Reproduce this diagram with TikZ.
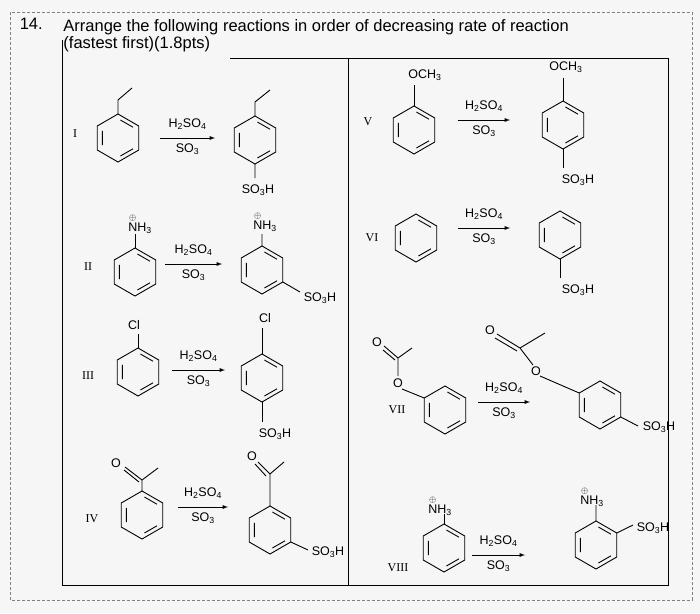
\documentclass[tikz,border=0pt]{standalone}
\usepackage{amsmath}
\usepackage{fontspec}
\setmainfont{Liberation Serif}
\setsansfont{Liberation Sans}
\begin{document}
\begin{tikzpicture}[x=1pt,y=-1pt,line width=0.9pt,
  lab/.style={font=\sffamily\fontsize{12.5}{13}\selectfont,inner sep=1pt},
  rn/.style={font=\rmfamily\fontsize{12}{13}\selectfont,inner sep=1pt},
  arr/.style={-latex,line width=0.9pt}]
\newcommand\bz[2]{\begin{scope}[shift={(#1,#2)},scale=1.2]
 \draw (0,-20)--(17.3,-10)--(17.3,10)--(0,20)--(-17.3,10)--(-17.3,-10)--cycle;
 \draw (2,-15)--(12.5,-9) (12.5,9)--(2,15) (-13,6)--(-13,-6);
 \end{scope}}
\newcommand\rx[4]{%
 \coordinate (#4a) at (#1,#3); \coordinate (#4b) at (#2,#3);
 \draw[arr] (#4a)--(#4b);
 \node[lab] (#4t) at ({(#1+#2)/2},#3-14) {H\textsubscript{2}SO\textsubscript{4}};
 \node[lab] (#4s) at ({(#1+#2)/2},#3+11) {SO\textsubscript{3}};}
\newcommand\nhplus{$\overset{\oplus}{\text{N}}$H\textsubscript{3}}
\useasboundingbox (0,0) rectangle (700,613);
\fill[white!93!gray] (0,0) rectangle (700,613);
\draw[densely dashed,gray,line width=0.6pt] (10,12) rectangle (692,600);
\draw (62,40)--(62,585)--(668,585)--(668,58)--(230,58);
\draw (348,58)--(348,585);
\node[font=\sffamily\fontsize{16.5}{17}\selectfont,anchor=west] (num) at (16,24) {14.};
\node[font=\sffamily\fontsize{16.5}{17}\selectfont,anchor=west,align=left,inner sep=1pt] (title) at (62,36) {Arrange the following reactions in order of decreasing rate of reaction\\(fastest first)(1.8pts)};
% I
\node[rn] (l1) at (75,134) {I};
\bz{118}{138}\draw (118,114)--(118,100)--(132,88);
\rx{160}{215}{138}{r1}
\bz{255}{140}\draw (255,116)--(255,102)--(270,90) (255,164)--(255,178);
\node[lab] (s1) at (258,190) {SO\textsubscript{3}H};
% II
\node[rn] (l2) at (88,267) {II};
\bz{135}{272}\draw (135,248)--(135,234);
\node[lab] (n2) at (140,224) {\nhplus};
\rx{165}{222}{264}{r2}
\bz{262}{270}\draw (262,246)--(262,234) (282.8,282)--(300,292);
\node[lab] (n2p) at (265,222) {\nhplus};
\node[lab] (s2) at (320,298) {SO\textsubscript{3}H};
% III
\node[rn] (l3) at (88,376) {III};
\bz{138}{372}\draw (138,348)--(138,334);
\node[lab] (c3) at (134,325) {Cl};
\rx{172}{225}{370}{r3}
\bz{262}{378}\draw (262,354)--(262,328) (262,402)--(262,422);
\node[lab] (c3p) at (265,318) {Cl};
\node[lab] (s3) at (275,434) {SO\textsubscript{3}H};
% IV
\node[rn] (l4) at (92,519) {IV};
\bz{142}{515}\draw (142,491)--(142,480)--(125,467) (142,480)--(158,468);
\draw (139,482)--(124,470);
\node[lab] (o4) at (116,463) {O};
\rx{178}{228}{507}{r4}
\bz{270}{530}\draw (270,506)--(270,474)--(284,462) (270,474)--(258,462) (266,476)--(255,464) (290.8,542)--(308,550);
\node[lab] (o4p) at (252,456) {O};
\node[lab] (s4) at (328,552) {SO\textsubscript{3}H};
% V
\node[rn] (l5) at (368,122) {V};
\bz{414}{130}\draw (414,106)--(414,85);
\node[lab] (o5) at (425,75) {OCH\textsubscript{3}};
\rx{458}{510}{120}{r5}
\bz{563}{125}\draw (563,101)--(563,78) (563,149)--(563,168);
\node[lab] (o5p) at (566,67) {OCH\textsubscript{3}};
\node[lab] (s5) at (578,180) {SO\textsubscript{3}H};
% VI
\node[rn] (l6) at (372,238) {VI};
\bz{416}{238}
\rx{458}{510}{228}{r6}
\bz{560}{235}\draw (560,259)--(560,278);
\node[lab] (s6) at (578,290) {SO\textsubscript{3}H};
% VII
\node[rn] (l7) at (397,410) {VII};
\bz{445}{410}\draw (424.2,398)--(402,389) (398,376)--(398,358)--(384,346) (398,358)--(412,348);
\draw (395,360)--(383,350);
\node[lab] (o7a) at (398,383) {O}; \node[lab] (o7b) at (377,342) {O};
\rx{478}{530}{402}{r7}
\bz{600}{405}\draw (579.2,393)--(540,376) (533,365)--(520,348)--(545,333) (520,348)--(497,334);
\draw (517,351)--(495,338);
\node[lab] (o7c) at (536,371) {O}; \node[lab] (o7d) at (490,330) {O};
\draw (620.8,417)--(638,426);
\node[lab] (s7) at (659,427) {SO\textsubscript{3}H};
% VIII
\node[rn] (l8) at (398,568) {VIII};
\bz{444}{548}\draw (444,524)--(444,514);
\node[lab] (n8) at (440,506) {\nhplus};
\rx{472}{525}{555}{r8}
\bz{596}{545}\draw (596,521)--(596,505) (616.8,533)--(633,525);
\node[lab] (n8p) at (592,497) {\nhplus};
\node[lab] (s8) at (653,528) {SO\textsubscript{3}H};
\end{tikzpicture}
\end{document}
